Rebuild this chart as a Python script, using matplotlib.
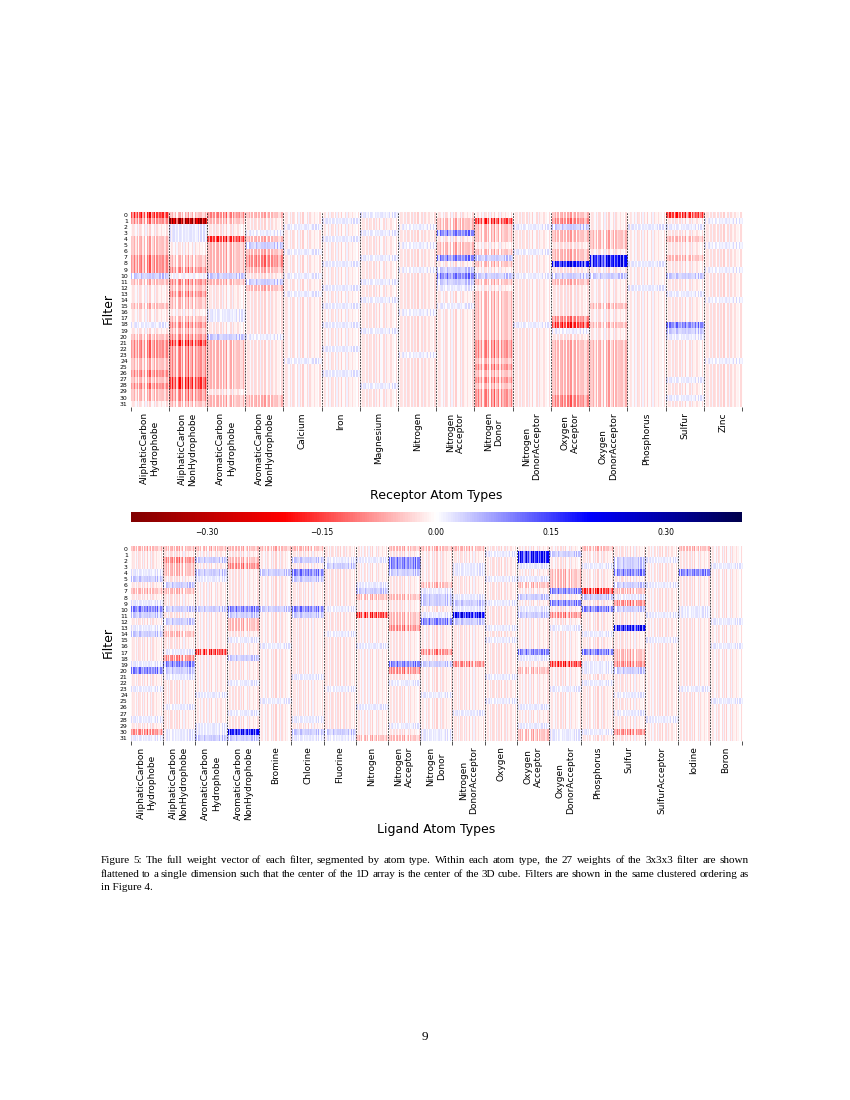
import numpy as np
import matplotlib
matplotlib.use("Agg")
import matplotlib.pyplot as plt
from matplotlib.colors import Normalize

# atom type names (27 weights per type)
receptor_types = ["AliphaticCarbon\nHydrophobe", "AliphaticCarbon\nNonHydrophobe",
                  "AromaticCarbon\nHydrophobe", "AromaticCarbon\nNonHydrophobe",
                  "Calcium", "Iron", "Magnesium", "Nitrogen",
                  "Nitrogen\nAcceptor", "Nitrogen\nDonor", "Nitrogen\nDonorAcceptor",
                  "Oxygen\nAcceptor", "Oxygen\nDonorAcceptor", "Phosphorus",
                  "Sulfur", "Zinc"]
ligand_types = ["AliphaticCarbon\nHydrophobe", "AliphaticCarbon\nNonHydrophobe",
                "AromaticCarbon\nHydrophobe", "AromaticCarbon\nNonHydrophobe",
                "Bromine", "Chlorine", "Fluorine", "Nitrogen",
                "Nitrogen\nAcceptor", "Nitrogen\nDonor", "Nitrogen\nDonorAcceptor",
                "Oxygen", "Oxygen\nAcceptor", "Oxygen\nDonorAcceptor",
                "Phosphorus", "Sulfur", "SulfurAcceptor", "Iodine", "Boron"]

# weight level of each filter (row) in each atom-type block, read by eye
levels = {"R": -0.30, "r": -0.125, "m": -0.072, "p": -0.042, "q": -0.014,
          "0": 0.0, "b": 0.014, "l": 0.036, "B": 0.085, "D": 0.16}

receptor_rows = [
    "rpmpqqbqqqqpqqrq", "mRpqqbqqprqmqqqb", "qbqqbqqbppblqbbq", "qbqbqqbqBpqppqqq",
    "pbrpqbqqqpqppqpq", "pqplqqqbpqqqpqqb", "pqppbqqqppbpqqqq", "mppmqqbqBlqpDqpq",
    "mppmqbqqqpqDDbqq", "mmppqqqblqqqqqqb", "l0lqbqqqBlbllqlq", "pmplqqbqlpqpqqqq",
    "qpqpqbqqbqqqqbqq", "qmqqbqqqqpqqqqbq", "qpqqqqbqqpqqqqqb", "ppqqqbqqbpqqpqqq",
    "qqbqqqqbqpqqqqqq", "qpbqqqqqqpqmqqqq", "bmqqqbqqqpbrpqBq", "qpqqqqbqqpqbqqlq",
    "pmlbqqqqqpqqqqbq", "mrpqqqqqqmqppqqq", "mmpqqbqqqmqppqqq", "mmpqqqqbqmqppqqq",
    "pmpqbqqqqpqppqqb", "pmpqqqqqqmqppqqq", "mmpqqbqqqpqppqqq", "prpqqqqqqmqppqbq",
    "mrpqqqbqqpqppqqq", "pmqqqqqqqmqppqqq", "pmppqqqqqmqmpqbq", "qpppqqqqqmqmpqqq",
]
ligand_rows = [
    "ppppppqqpppqqqpqqpq", "qqqqqqqqqqqbDlqqqqq", "qmlpqlbbBqqqDqqlbqq", "qpqmqqlqBqbqbqblqqb",
    "bplqlBqqlqbqqpqBqBq", "lqbqqlqqqqqbbpqqqqq", "qlqqqqqbqpqqppqlbqq", "ppqqqqqlqbqqqBrpqqq",
    "qqqqqqqpplbqlqlbqqq", "bqqqqqqqqllbqBqmqqq", "BllBlBbqqqbqbqBlqbq", "lqqlqlqrpbDqlmqqbbq",
    "qlqpqqqqpBlqqqqqqqb", "bqqpqqqqmqqbqbqDqqq", "lpqqqqbqqqqqqqbqqqq", "qqqbqqqqqqqbqqqqbqq",
    "qqqqbqqbqqqqqqqqqqb", "qbrqqqqqqmqqBqBpqqq", "qmqlqqqqqqqqbqqpqqq", "bBqqqqqqBlmqqrbmqqq",
    "Blqqqqqqmqqqpqblqqq", "qbqqqbqqqqqbqqqqqqq", "qqqbqqqqbqqqqqbqqqq", "bqqqqqbqqqqqqbqqqbq",
    "qqbqqqqqqbqqqqqbqqq", "qqqqbqqqqqqbqqqqqqb", "qbqqqqqbqqqqbqqqqqq", "qqqbqqqqqqbqqqqbqqq",
    "bqqqqbqqqqqqqqqqbqq", "qqbqqqqqbqqqbqqqqqq", "mbbDqllqqbqqpbbmqqq", "bbllqbbppbqqpbqqqqq",
]

# spread of the 27 flattened cube weights inside a block (by eye)
cube_scale = [1.3, 0.5, 1.5, 0.8, 1.2, 0.4, 1.0, 1.6, 0.6, 1.1, 0.35, 1.4, 0.9, 1.7,
              0.5, 1.0, 1.4, 0.4, 1.2, 0.7, 1.3, 0.8, 1.5, 0.45, 1.0, 1.3, 0.6]
cube_shift = [0.01, -0.018, 0.0, 0.016, -0.01, 0.014, -0.016, 0.0, 0.01, -0.014, 0.016,
              -0.01, 0.004, -0.016, 0.012, 0.008, -0.01, 0.016, -0.012, 0.0, 0.01, -0.016,
              0.012, -0.006, 0.016, -0.01, 0.006]

cmap = plt.get_cmap("seismic_r")
norm = Normalize(vmin=-0.4, vmax=0.4)


def weights(rows):
    lv = np.array([[levels[c] for c in r] for r in rows])
    sc = np.array(cube_scale)
    sh = np.array(cube_shift)
    out = lv[:, :, None] * sc[None, None, :] + sh[None, None, :]
    return out.reshape(lv.shape[0], -1)


def draw_heatmap(ax, rows, names):
    data = weights(rows)
    n = len(names)
    ncol = data.shape[1]
    ax.imshow(data, cmap=cmap, norm=norm, aspect="auto", interpolation="nearest",
              extent=(0, ncol, data.shape[0], 0))
    for k in range(1, n):
        ax.axvline(k * 27, color="0.15", lw=0.6, ls=(0, (2, 1.5)))
    ax.set_xticks([k * 27 for k in range(n + 1)])
    ax.set_xticklabels([])
    ax.tick_params(axis="x", which="major", length=3, width=0.6, color="0.2")
    ax.set_xticks([k * 27 + 13.5 for k in range(n)], minor=True)
    ax.set_xticklabels(names, minor=True, rotation=90, fontsize=6.5,
                       multialignment="center")
    ax.tick_params(axis="x", which="minor", length=0, pad=4)
    ax.set_yticks(np.arange(32) + 0.5)
    ax.set_yticklabels([str(i) for i in range(32)], fontsize=4.4)
    ax.tick_params(axis="y", length=0, pad=2)
    for s in ax.spines.values():
        s.set_visible(False)


W, H = 850, 1100
fig = plt.figure(figsize=(8.5, 11), dpi=100)

x0, x1 = 130.5, 742
ax_r = fig.add_axes([x0 / W, 1 - 406.7 / H, (x1 - x0) / W, (406.7 - 211.7) / H])
draw_heatmap(ax_r, receptor_rows, receptor_types)
ax_l = fig.add_axes([x0 / W, 1 - 741 / H, (x1 - x0) / W, (741 - 545.7) / H])
draw_heatmap(ax_l, ligand_rows, ligand_types)

fig.text(108 / W, 1 - 309 / H, "Filter", rotation=90, fontsize=9, ha="center", va="center")
fig.text(108 / W, 1 - 643 / H, "Filter", rotation=90, fontsize=9, ha="center", va="center")
fig.text(436 / W, 1 - 495 / H, "Receptor Atom Types", fontsize=9, ha="center", va="center")
fig.text(436 / W, 1 - 829 / H, "Ligand Atom Types", fontsize=9, ha="center", va="center")

cax = fig.add_axes([x0 / W, 1 - 522.3 / H, (x1 - x0) / W, 10 / H])
cb = fig.colorbar(plt.cm.ScalarMappable(norm=norm, cmap=cmap), cax=cax,
                  orientation="horizontal", ticks=[-0.3, -0.15, 0.0, 0.15, 0.3])
cb.outline.set_visible(False)
cb.ax.set_xticklabels(["\u22120.30", "\u22120.15", "0.00", "0.15", "0.30"])
cb.ax.tick_params(length=0, labelsize=5.5, pad=4)

# caption, justified by hand
cap_kw = dict(fontsize=8.0, family="Liberation Serif", va="center")
cap_lines = [
    "Figure 5:  The full weight vector of each filter, segmented by atom type.  Within each atom type, the 27 weights of the 3x3x3 filter are shown",
    "flattened to a single dimension such that the center of the 1D array is the center of the 3D cube. Filters are shown in the same clustered ordering as",
]
renderer = fig.canvas.get_renderer()
cx0, cx1 = 100.7 / W, 749 / W
for line, yy in zip(cap_lines, [860.7, 874.3]):
    words = line.split()
    objs = [fig.text(0, 1 - yy / H, w, **cap_kw) for w in words]
    widths = [o.get_window_extent(renderer).width / fig.bbox.width for o in objs]
    gap = (cx1 - cx0 - sum(widths)) / (len(words) - 1)
    xx = cx0
    for o, w in zip(objs, widths):
        o.set_x(xx)
        xx += w + gap
fig.text(cx0, 1 - 887.7 / H, "in Figure 4.", **cap_kw)
fig.text(425 / W, 1 - 1037 / H, "9", fontsize=9.5, family="Liberation Serif",
         ha="center", va="center")

fig.savefig("out.png", dpi=100)
